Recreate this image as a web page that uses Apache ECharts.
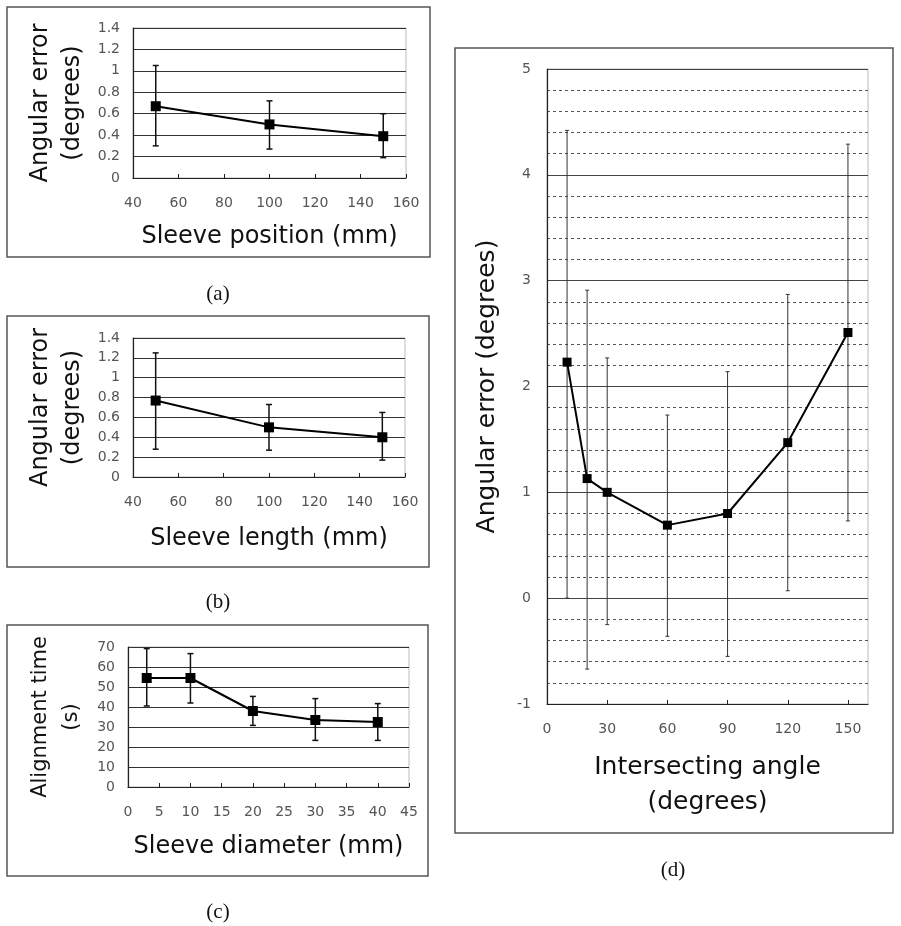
<!DOCTYPE html>
<html><head><meta charset="utf-8">
<script src="https://cdn.jsdelivr.net/npm/echarts@6/dist/echarts.min.js"></script>
<style>html,body{margin:0;padding:0;background:#fff}#c{width:901px;height:926px}</style>
</head><body><div id="c"></div>
<script>
// Panel (a): Sleeve position
const aX = [50, 100, 150];
const aY = [0.67, 0.50, 0.39];
const aLow = [0.30, 0.27, 0.19];
const aHigh = [1.05, 0.72, 0.60];
// Panel (b): Sleeve length
const bX = [50, 100, 150];
const bY = [0.77, 0.50, 0.40];
const bLow = [0.28, 0.27, 0.17];
const bHigh = [1.25, 0.73, 0.65];
// Panel (c): Sleeve diameter
const cX = [3, 10, 20, 30, 40];
const cY = [54.5, 54.5, 38, 33.5, 32.5];
const cLow = [40.5, 42, 30.8, 23.3, 23.3];
const cHigh = [69.2, 66.7, 45.3, 44.2, 41.7];
// Panel (d): Intersecting angle
const dX = [10, 20, 30, 60, 90, 120, 150];
const dY = [2.23, 1.13, 1.00, 0.69, 0.80, 1.47, 2.51];
const dLow = [0.00, -0.67, -0.25, -0.36, -0.55, 0.07, 0.73];
const dHigh = [4.42, 2.91, 2.27, 1.73, 2.14, 2.87, 4.29];

const FONT = 'DejaVu Sans';
const pts = (xs, ys) => xs.map((x, i) => [x, ys[i]]);
const errs = (xs, lo, hi) => xs.map((x, i) => [x, lo[i], hi[i]]);

function errRender(capW, lw, color) {
  return function (params, api) {
    const x = api.value(0);
    const p1 = api.coord([x, api.value(1)]);
    const p2 = api.coord([x, api.value(2)]);
    const st = { stroke: color, lineWidth: lw };
    return { type: 'group', children: [
      { type: 'line', shape: { x1: p1[0], y1: p1[1], x2: p2[0], y2: p2[1] }, style: st },
      { type: 'line', shape: { x1: p1[0] - capW, y1: p1[1], x2: p1[0] + capW, y2: p1[1] }, style: st },
      { type: 'line', shape: { x1: p2[0] - capW, y1: p2[1], x2: p2[0] + capW, y2: p2[1] }, style: st }
    ]};
  };
}

const labelStyle = { color: '#555', fontSize: 14, fontFamily: FONT };
const nameStyle = { color: '#111', fontSize: 24, fontFamily: FONT };

function xAx(gi, min, max, interval, name, gap, extra) {
  return Object.assign({
    gridIndex: gi, type: 'value', min, max, interval,
    name, nameLocation: 'middle', nameGap: gap, nameTextStyle: nameStyle,
    axisLine: { show: true, onZero: false, lineStyle: { color: '#222', width: 1.2 } },
    axisTick: { show: true, inside: true, length: 4, lineStyle: { color: '#222' } },
    axisLabel: Object.assign({ margin: 18 }, labelStyle),
    splitLine: { show: false }
  }, extra || {});
}
function yAx(gi, min, max, interval, name, gap, extra) {
  return Object.assign({
    gridIndex: gi, type: 'value', min, max, interval,
    name, nameLocation: 'middle', nameGap: gap, nameRotate: 90,
    nameTextStyle: Object.assign({}, nameStyle, { lineHeight: 32 }),
    axisLine: { show: true, lineStyle: { color: '#222', width: 1.2 } },
    axisTick: { show: false },
    axisLabel: Object.assign({ margin: 13 }, labelStyle),
    splitLine: { show: true, lineStyle: { color: '#333', width: 1 } }
  }, extra || {});
}

function lineSeries(i, data, sym) {
  return { type: 'line', xAxisIndex: i, yAxisIndex: i, data, z: 5,
    symbol: 'rect', symbolSize: sym, showSymbol: true,
    itemStyle: { color: '#000' }, lineStyle: { color: '#000', width: 2 }, animation: false };
}
function errSeries(i, data, capW, lw, color) {
  return { type: 'custom', xAxisIndex: i, yAxisIndex: i, data, z: 3,
    encode: { x: 0, y: [1, 2] }, renderItem: errRender(capW, lw, color), animation: false };
}

const gridBase = { show: true, borderColor: '#bbb', borderWidth: 1, backgroundColor: '#fff', containLabel: false };

const option = {
  animation: false,
  backgroundColor: '#fff',
  grid: [
    Object.assign({ left: 133, top: 28, width: 273, height: 150 }, gridBase),
    Object.assign({ left: 133, top: 338, width: 272, height: 139 }, gridBase),
    Object.assign({ left: 128, top: 647, width: 281, height: 140 }, gridBase),
    Object.assign({ left: 547, top: 69, width: 321, height: 635 }, gridBase)
  ],
  xAxis: [
    xAx(0, 40, 160, 20, 'Sleeve position (mm)', 47),
    xAx(1, 40, 160, 20, 'Sleeve length (mm)', 50),
    xAx(2, 0, 45, 5, 'Sleeve diameter (mm)', 48),
    xAx(3, 0, 160, 30, 'Intersecting angle\n(degrees)', 46, {
      nameTextStyle: Object.assign({}, nameStyle, { fontSize: 25, lineHeight: 35 }),
      axisLabel: Object.assign({ margin: 18, showMaxLabel: false,
        formatter: v => (v % 30 === 0 ? String(v) : '') }, labelStyle)
    })
  ],
  yAxis: [
    yAx(0, 0, 1.4, 0.2, 'Angular error\n(degrees)', 44),
    yAx(1, 0, 1.4, 0.2, 'Angular error\n(degrees)', 44),
    yAx(2, 0, 70, 10, 'Alignment time\n(s)', 41, {
      nameTextStyle: Object.assign({}, nameStyle, { fontSize: 21, lineHeight: 31 })
    }),
    yAx(3, -1, 5, 1, 'Angular error (degrees)', 46, {
      nameTextStyle: Object.assign({}, nameStyle, { fontSize: 25, lineHeight: 28 }),
      axisLabel: Object.assign({ margin: 16 }, labelStyle),
      splitLine: { show: true, lineStyle: { color: '#444', width: 1 } },
      minorTick: { show: false, splitNumber: 5 },
      minorSplitLine: { show: true, lineStyle: { color: '#555', width: 1, type: [3, 3] } }
    })
  ],
  series: [
    errSeries(0, errs(aX, aLow, aHigh), 3, 1.5, '#111'),
    lineSeries(0, pts(aX, aY), 10),
    errSeries(1, errs(bX, bLow, bHigh), 3, 1.5, '#111'),
    lineSeries(1, pts(bX, bY), 10),
    errSeries(2, errs(cX, cLow, cHigh), 3, 1.5, '#111'),
    lineSeries(2, pts(cX, cY), 10),
    errSeries(3, errs(dX, dLow, dHigh), 2, 1, '#333'),
    lineSeries(3, pts(dX, dY), 9)
  ],
  graphic: [
    { type: 'rect', z: -10, shape: { x: 7, y: 7, width: 423, height: 250 }, style: { fill: 'none', stroke: '#555', lineWidth: 1.5 } },
    { type: 'rect', z: -10, shape: { x: 7, y: 316, width: 422, height: 251 }, style: { fill: 'none', stroke: '#555', lineWidth: 1.5 } },
    { type: 'rect', z: -10, shape: { x: 7, y: 625, width: 421, height: 251 }, style: { fill: 'none', stroke: '#555', lineWidth: 1.5 } },
    { type: 'rect', z: -10, shape: { x: 455, y: 48, width: 438, height: 785 }, style: { fill: 'none', stroke: '#555', lineWidth: 1.5 } },
    { type: 'text', x: 218, y: 294, style: { text: '(a)', font: '21px "Liberation Serif"', fill: '#111', textAlign: 'center', textVerticalAlign: 'middle' } },
    { type: 'text', x: 218, y: 602, style: { text: '(b)', font: '21px "Liberation Serif"', fill: '#111', textAlign: 'center', textVerticalAlign: 'middle' } },
    { type: 'text', x: 218, y: 912, style: { text: '(c)', font: '21px "Liberation Serif"', fill: '#111', textAlign: 'center', textVerticalAlign: 'middle' } },
    { type: 'text', x: 673, y: 870, style: { text: '(d)', font: '21px "Liberation Serif"', fill: '#111', textAlign: 'center', textVerticalAlign: 'middle' } }
  ]
};

const chart = echarts.init(document.getElementById('c'), null, { renderer: 'canvas' });
chart.setOption(option);
</script></body></html>
